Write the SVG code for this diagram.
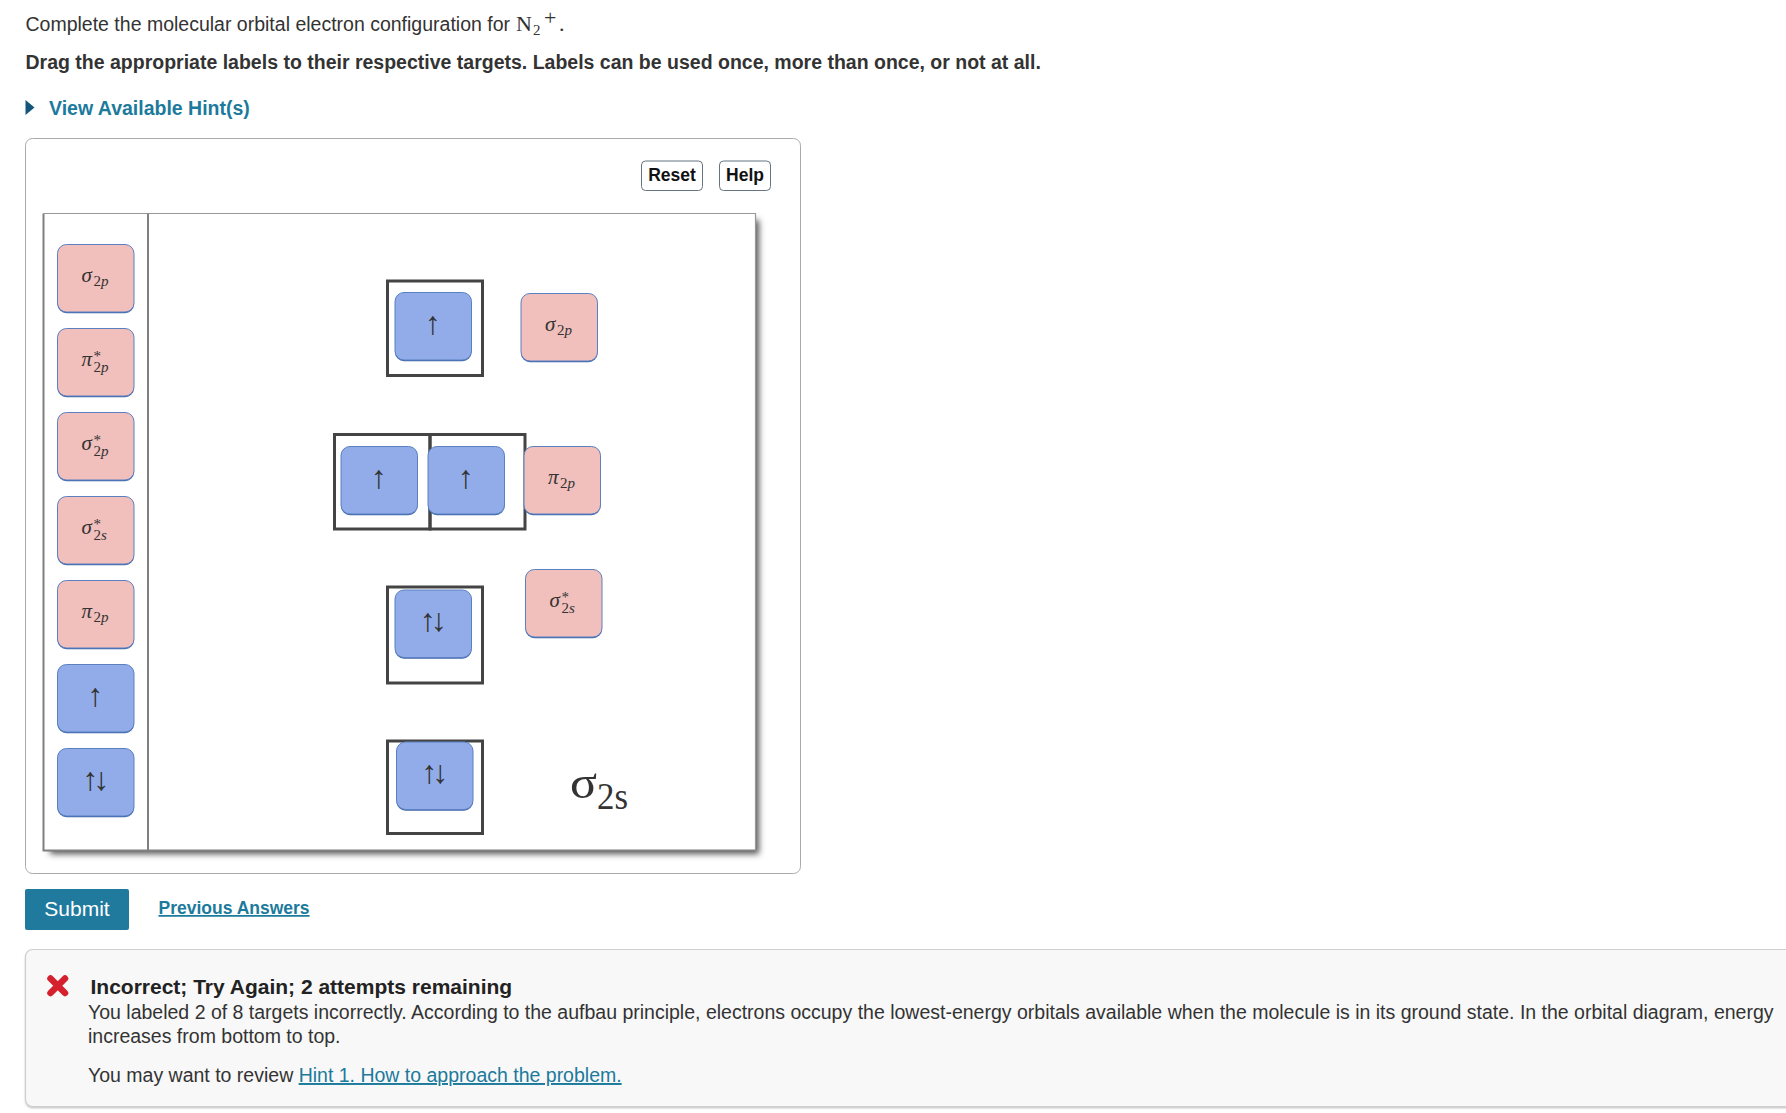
<svg xmlns="http://www.w3.org/2000/svg" width="1786" height="1113" viewBox="0 0 1786 1113">
<defs>
<filter id="sh" x="-5%" y="-5%" width="112%" height="112%"><feGaussianBlur stdDeviation="3"/></filter>
<filter id="sf" x="-5%" y="-5%" width="110%" height="110%"><feGaussianBlur stdDeviation="1.2"/></filter>
<rect id="tile" width="76.500" height="67.500" rx="9"/>
</defs>
<style>
text{font-family:"Liberation Sans",Arial,sans-serif;fill:#333}
.b{font-weight:700}
.link{fill:#1c7a9c}
.u{text-decoration:underline}
.m{font-family:"Liberation Serif","Times New Roman",serif;fill:#333}
.sig{font-size:21px;font-style:italic}
.sub{font-size:15px}
.i{font-style:italic}
.star{font-size:15px}
.arw{font-size:32px;text-anchor:middle}
.two{letter-spacing:-5px}
.pink{fill:#f1bfbc;stroke:#5b80c0;stroke-width:1}
.blue{fill:#91ace9;stroke:#5b80c0;stroke-width:1}
.edge{fill:#3f66ad;transform:translateY(1.2px)}
.box{fill:none;stroke:#444;stroke-width:3}
.btn{fill:#fff;stroke:#66757f;stroke-width:1}
</style>
<rect width="1786" height="1113" fill="#fff"/>

<g id="prompt">
<text x="25.500" y="31" font-size="19.500">Complete the molecular orbital electron configuration for</text>
<text class="m" x="516" y="31" font-size="22">N</text>
<text class="m" x="533" y="35" font-size="15">2</text>
<text class="m" x="544" y="25" font-size="22">+</text>
<text class="m" x="559" y="31" font-size="22">.</text>
<text class="b" x="25.500" y="69" font-size="19.500">Drag the appropriate labels to their respective targets. Labels can be used once, more than once, or not at all.</text>
<path d="M25.500 100 L34.500 107.500 L25.500 115 Z" fill="#14567a"/>
<text class="b link" x="49" y="115" font-size="19.500">View Available Hint(s)</text>
</g>

<rect id="panel" x="25.500" y="138.500" width="775" height="735" rx="7" fill="#fff" stroke="#aaa" stroke-width="1"/>

<g id="reset"><rect class="btn" x="641.500" y="161" width="61" height="29.500" rx="4"/><text class="b" x="672" y="181" font-size="17.500" text-anchor="middle" style="fill:#111">Reset</text></g>
<g id="help"><rect class="btn" x="719.500" y="161" width="51" height="29.500" rx="4"/><text class="b" x="745" y="181" font-size="17.500" text-anchor="middle" style="fill:#111">Help</text></g>

<g id="frame">
<rect x="50" y="220" width="709" height="634" fill="#555" filter="url(#sh)"/>
<rect x="43.500" y="213.500" width="712" height="637" fill="#fff"/>
<path d="M43.500 213.500 H755.500 V850.500" fill="none" stroke="#999" stroke-width="1.200"/>
<path d="M43.500 213.500 V850.500 H755.500 M148 213.500 V850.500" fill="none" stroke="#808080" stroke-width="2"/>
</g>

<g id="target-boxes">
<rect class="box" x="387.500" y="281" width="95" height="94.500"/>
<rect class="box" x="334.500" y="434.500" width="95.500" height="94.500"/>
<rect class="box" x="430" y="434.500" width="95" height="94.500"/>
<rect class="box" x="387.500" y="587" width="95" height="96"/>
<rect class="box" x="387.500" y="741" width="95" height="92.500"/>
</g>

<g id="p-sigma2p" transform="translate(57.500 244.500)"><use href="#tile" class="edge"/><use href="#tile" class="pink"/><text class="m sig" x="24" y="37">σ</text><text class="m sub" x="36" y="41">2<tspan class="i">p</tspan></text></g>
<g id="p-pistar2p" transform="translate(57.500 328.500)"><use href="#tile" class="edge"/><use href="#tile" class="pink"/><text class="m sig" x="24" y="37">π</text><text class="m star" x="36" y="32">*</text><text class="m sub" x="36" y="43">2<tspan class="i">p</tspan></text></g>
<g id="p-sigmastar2p" transform="translate(57.500 412.500)"><use href="#tile" class="edge"/><use href="#tile" class="pink"/><text class="m sig" x="24" y="37">σ</text><text class="m star" x="36" y="32">*</text><text class="m sub" x="36" y="43">2<tspan class="i">p</tspan></text></g>
<g id="p-sigmastar2s" transform="translate(57.500 496.500)"><use href="#tile" class="edge"/><use href="#tile" class="pink"/><text class="m sig" x="24" y="37">σ</text><text class="m star" x="36" y="32">*</text><text class="m sub" x="36" y="43">2<tspan class="i">s</tspan></text></g>
<g id="p-pi2p" transform="translate(57.500 580.500)"><use href="#tile" class="edge"/><use href="#tile" class="pink"/><text class="m sig" x="24" y="37">π</text><text class="m sub" x="36" y="41">2<tspan class="i">p</tspan></text></g>
<g id="p-up" transform="translate(57.500 664.500)"><use href="#tile" class="edge"/><use href="#tile" class="blue"/><text class="m arw" x="38" y="41">↑</text></g>
<g id="p-updown" transform="translate(57.500 748.500)"><use href="#tile" class="edge"/><use href="#tile" class="blue"/><text class="m arw two" x="36" y="41">↑↓</text></g>

<g id="t-up-1" transform="translate(395 292.500)"><use href="#tile" class="edge"/><use href="#tile" class="blue"/><text class="m arw" x="38" y="41">↑</text></g>
<g id="t-sigma2p" transform="translate(521 293.500)"><use href="#tile" class="edge"/><use href="#tile" class="pink"/><text class="m sig" x="24" y="37">σ</text><text class="m sub" x="36" y="41">2<tspan class="i">p</tspan></text></g>
<g id="t-up-2" transform="translate(341 446.500)"><use href="#tile" class="edge"/><use href="#tile" class="blue"/><text class="m arw" x="38" y="41">↑</text></g>
<g id="t-up-3" transform="translate(428 446.500)"><use href="#tile" class="edge"/><use href="#tile" class="blue"/><text class="m arw" x="38" y="41">↑</text></g>
<g id="t-pi2p" transform="translate(524 446.500)"><use href="#tile" class="edge"/><use href="#tile" class="pink"/><text class="m sig" x="24" y="37">π</text><text class="m sub" x="36" y="41">2<tspan class="i">p</tspan></text></g>
<g id="t-updown-1" transform="translate(395 590)"><use href="#tile" class="edge"/><use href="#tile" class="blue"/><text class="m arw two" x="36" y="41">↑↓</text></g>
<g id="t-sigmastar2s" transform="translate(525.500 569.500)"><use href="#tile" class="edge"/><use href="#tile" class="pink"/><text class="m sig" x="24" y="37">σ</text><text class="m star" x="36" y="32">*</text><text class="m sub" x="36" y="43">2<tspan class="i">s</tspan></text></g>
<g id="t-updown-2" transform="translate(396.500 742)"><use href="#tile" class="edge"/><use href="#tile" class="blue"/><text class="m arw two" x="36" y="41">↑↓</text></g>

<g id="sigma2s-label"><text class="m" x="570" y="798" font-size="46" textLength="27" lengthAdjust="spacingAndGlyphs">σ</text><text class="m" x="597" y="809" font-size="38" textLength="31" lengthAdjust="spacingAndGlyphs">2s</text></g>

<g id="submit"><rect x="25" y="889" width="104" height="41" rx="2" fill="#1f7a9e"/><text x="77" y="916" font-size="21" text-anchor="middle" style="fill:#fff">Submit</text></g>
<text class="b link u" x="158.500" y="914" font-size="17.500">Previous Answers</text>

<g id="feedback">
<rect x="25.500" y="951" width="1790" height="157" rx="7" fill="#bbb" filter="url(#sf)"/>
<rect x="25.500" y="949.500" width="1790" height="157" rx="7" fill="#f8f8f8" stroke="#cfcfcf" stroke-width="1.200"/>
<path d="M50.500 978.500 L65 993 M65 978.500 L50.500 993" stroke="#d5202e" stroke-width="6.500" stroke-linecap="round" fill="none"/>
<text class="b" x="90.500" y="994" font-size="21" style="fill:#222">Incorrect; Try Again; 2 attempts remaining</text>
<text x="88" y="1019" font-size="19.500">You labeled 2 of 8 targets incorrectly. According to the aufbau principle, electrons occupy the lowest-energy orbitals available when the molecule is in its ground state. In the orbital diagram, energy</text>
<text x="88" y="1043" font-size="19.500">increases from bottom to top.</text>
<text x="88" y="1082" font-size="19.500">You may want to review <tspan class="link u">Hint 1. How to approach the problem.</tspan></text>
</g>
</svg>
